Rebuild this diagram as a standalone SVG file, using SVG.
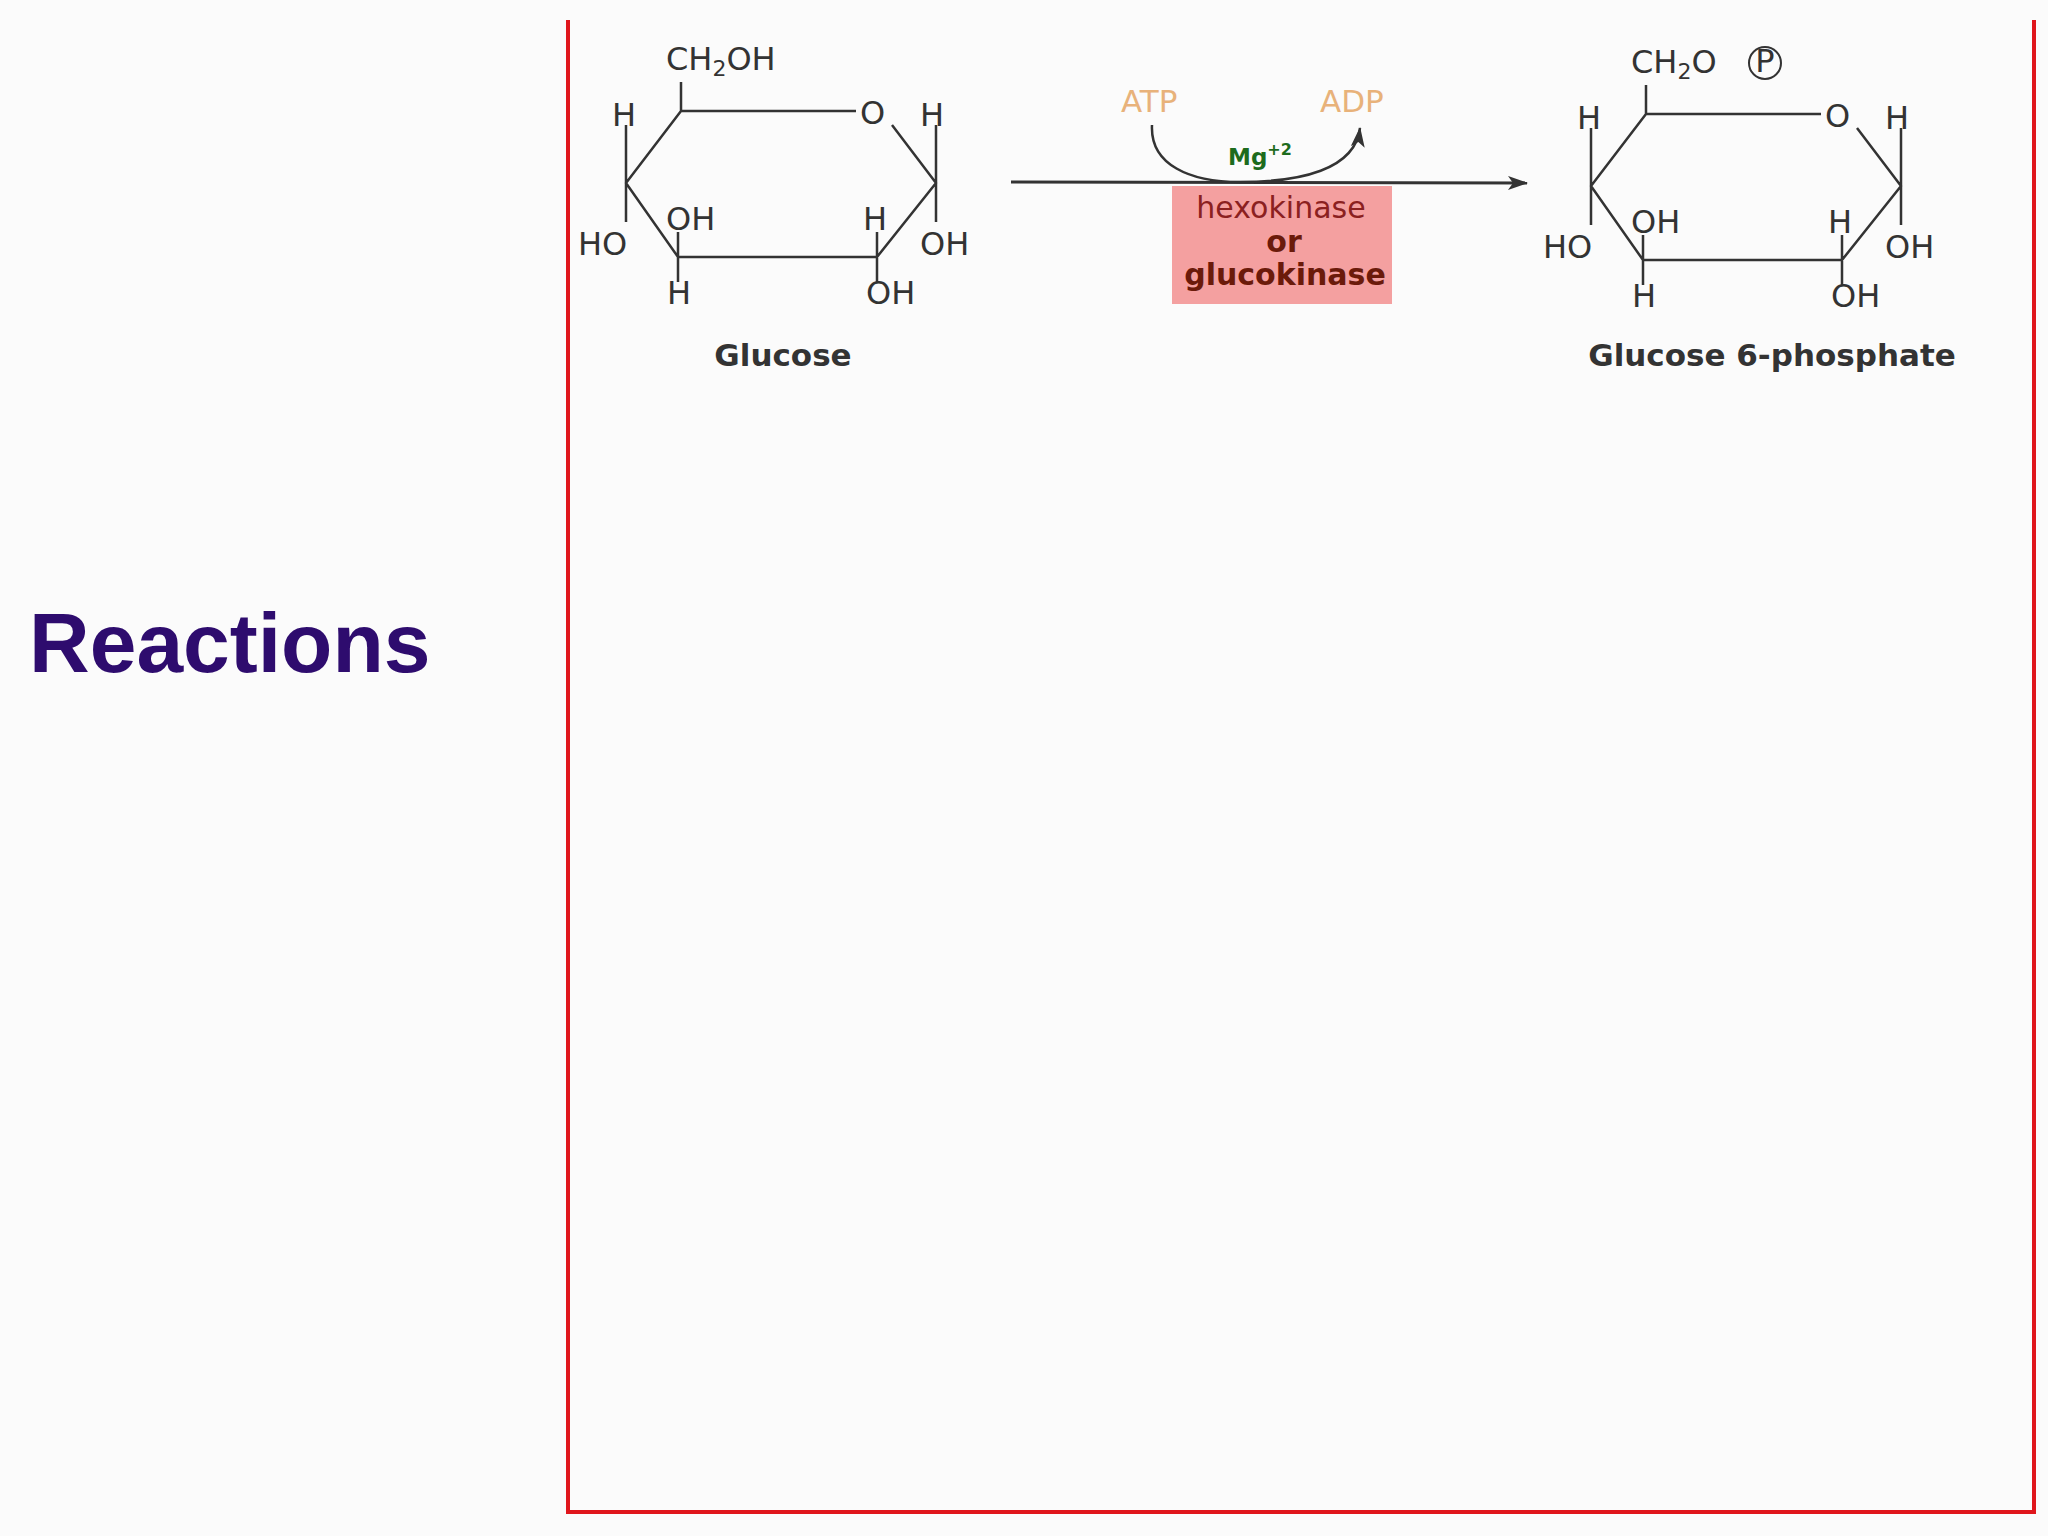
<svg xmlns="http://www.w3.org/2000/svg" width="2048" height="1536" viewBox="0 0 2048 1536">
<defs>
<style>
.t{font-family:"DejaVu Sans",sans-serif;font-size:32px;fill:#333}
.b{stroke:#333;stroke-width:2.5;fill:none}
.lbl{font-family:"DejaVu Sans",sans-serif;font-size:31px;font-weight:bold;fill:#333;text-anchor:middle}
.e{font-family:"DejaVu Sans",sans-serif;font-size:30px;text-anchor:middle}
</style>
<marker id="ah" markerWidth="20" markerHeight="14" refX="19" refY="7" orient="auto" markerUnits="userSpaceOnUse"><path d="M0,0 L20,7 L0,14 L5,7 Z" fill="#333"/></marker>
<g id="ring">
<path class="b" d="M681,111 L856,111 M892,125 L936,183 L877,257 L678,257 L626,183 L681,111 M681,111 L681,82 M626,183 L626,125 M626,183 L626,222 M678,257 L678,232 M678,257 L678,282 M877,257 L877,232 M877,257 L877,282 M936,183 L936,125 M936,183 L936,222"/>
<text class="t" x="860" y="124">O</text>
<text class="t" x="612" y="126">H</text>
<text class="t" x="578" y="255">HO</text>
<text class="t" x="666" y="230">OH</text>
<text class="t" x="667" y="304">H</text>
<text class="t" x="863" y="230">H</text>
<text class="t" x="866" y="304">OH</text>
<text class="t" x="920" y="126">H</text>
<text class="t" x="920" y="255">OH</text>
</g>
</defs>
<rect width="2048" height="1536" fill="#fbfbfb"/>
<text x="29" y="672" font-family="Liberation Sans,Arial,sans-serif" font-size="84" font-weight="bold" fill="#2e0c6e">Reactions</text>
<path d="M568,20 V1512 H2034 V20" fill="none" stroke="#e0161c" stroke-width="4"/>
<g id="glucose">
<use href="#ring"/>
<text class="t" x="666" y="70">CH<tspan font-size="22" dy="6">2</tspan><tspan dy="-6">OH</tspan></text>
<text class="lbl" x="783" y="366">Glucose</text>
</g>
<g id="g6p">
<use href="#ring" transform="translate(965,3)"/>
<text class="t" x="1631" y="73">CH<tspan font-size="22" dy="6">2</tspan><tspan dy="-6">O</tspan></text>
<circle cx="1765" cy="63" r="16" fill="none" stroke="#333" stroke-width="2"/>
<text class="t" x="1765" y="72" font-size="23" text-anchor="middle">P</text>
<text class="lbl" x="1772" y="366">Glucose 6-phosphate</text>
</g>
<g id="enzyme">
<rect x="1172" y="186" width="220" height="118" fill="#f4a0a0"/>
<text class="e" x="1281" y="218" fill="#8b2020">hexokinase</text>
<text class="e" x="1284" y="252" font-weight="bold" fill="#6b1a0a">or</text>
<text class="e" x="1285" y="285" font-weight="bold" fill="#6b1a0a">glucokinase</text>
</g>
<g id="cofactors">
<text x="1121" y="112" font-family="DejaVu Sans,sans-serif" font-size="31" fill="#e8b27a">ATP</text>
<text x="1320" y="112" font-family="DejaVu Sans,sans-serif" font-size="31" fill="#e8b27a">ADP</text>
<text x="1228" y="165" font-family="DejaVu Sans,sans-serif" font-size="23" font-weight="bold" fill="#1d6b1d">Mg<tspan font-size="16" dy="-10">+2</tspan></text>
</g>
<g id="connectors">
<path d="M1011,182 L1527,183" stroke="#333" stroke-width="3" fill="none" marker-end="url(#ah)"/>
<path d="M1152,125 C1150,165 1190,182 1240,182 C1300,182 1355,170 1360,128" stroke="#333" stroke-width="2.5" fill="none" marker-end="url(#ah)"/>
</g>
</svg>
